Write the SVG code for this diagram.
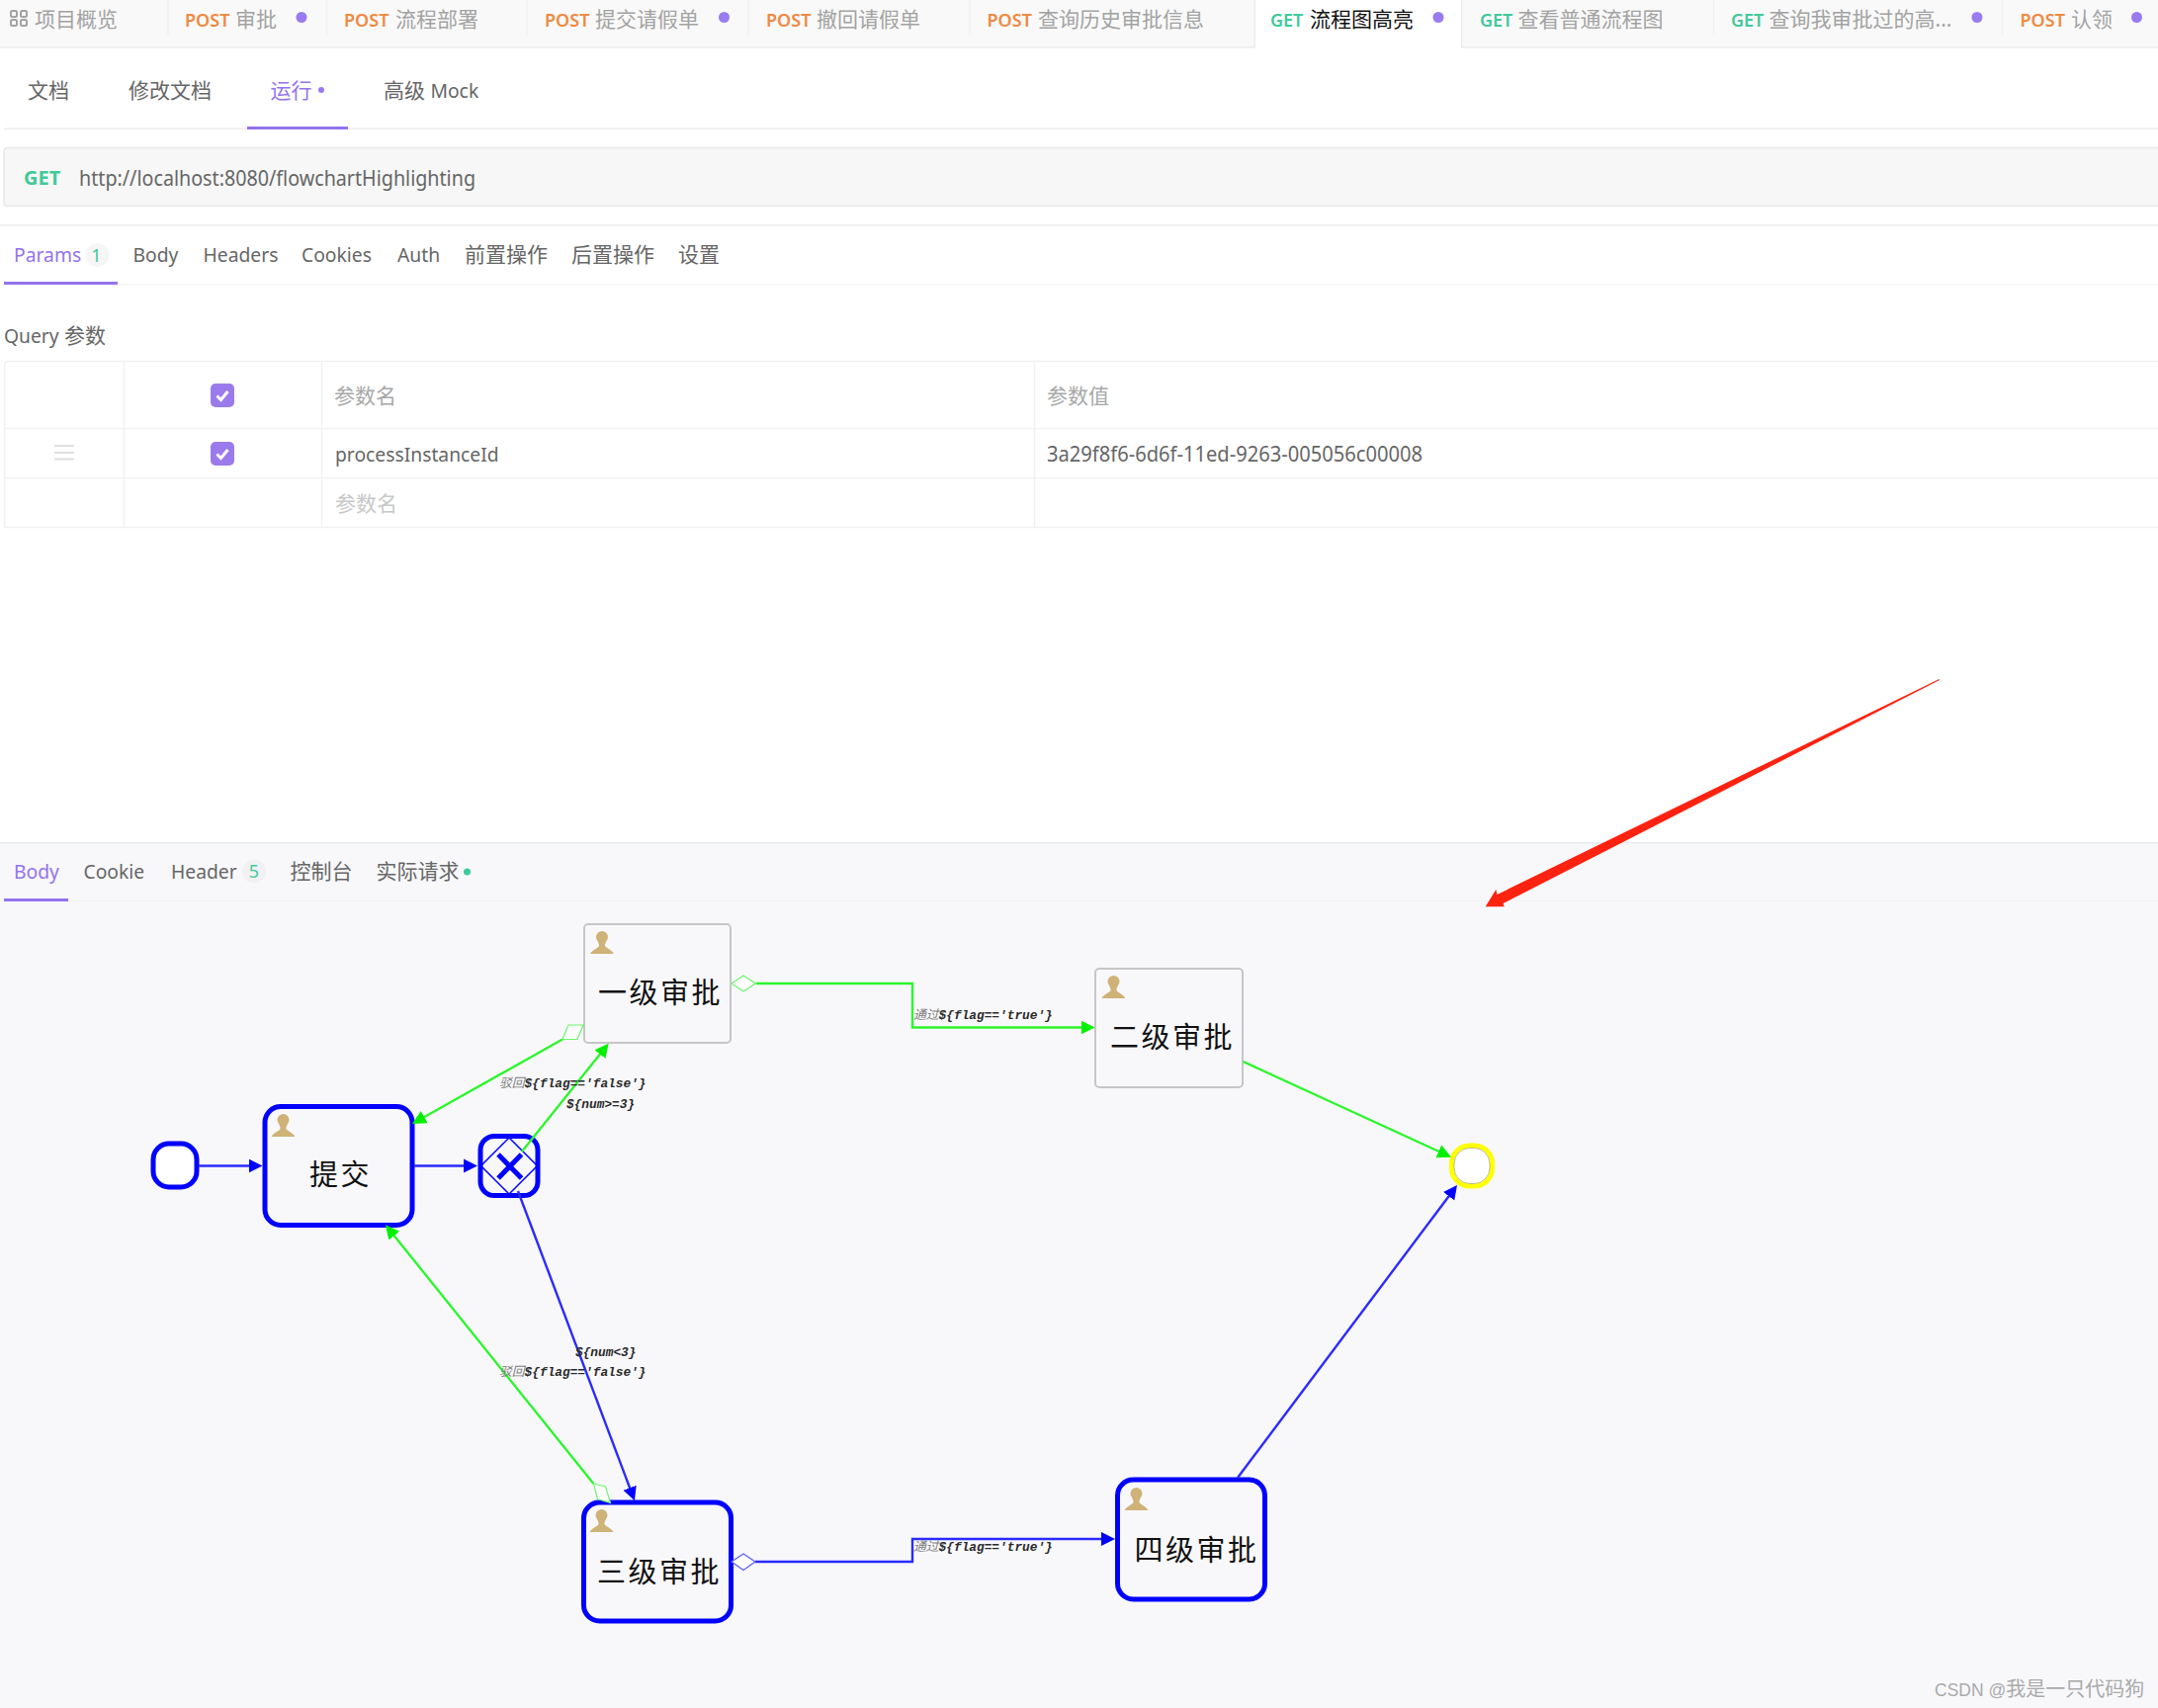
<svg xmlns="http://www.w3.org/2000/svg" xmlns:xlink="http://www.w3.org/1999/xlink" width="2183" height="1728" viewBox="0 0 2183 1728">
<style>
text{font-family:"Noto Sans","Noto Sans CJK SC",sans-serif;font-size:21px;fill:#666}
.l{font-size:19.300px}
.tab{fill:#a3a3a3}
.post{font-size:18px;font-weight:600;fill:#ef8a42}
.get{font-size:18px;font-weight:600;fill:#41c99b}
.p{fill:#9373ee}
.dot{fill:#9a7bef}
.rule{fill:#ececec}
.cell{stroke:#f1f1f1;stroke-width:1.5;fill:none}
.task{fill:#f8f8fb;stroke:#0000ff;stroke-width:5}
.idle{fill:#f8f8fb;stroke:#c6c6c6;stroke-width:2}
.name{font-family:"Liberation Serif","Noto Sans CJK SC",serif;font-size:29px;letter-spacing:2.5px;fill:#111}
.lbl{font-family:"Liberation Mono","Noto Sans CJK SC",monospace;font-size:12.800px;font-style:italic;font-weight:700;fill:#2a2a2a}
.zh{font-weight:400;fill:#808080}
.g{stroke:#2df52d;stroke-width:2.400;fill:none}
.b{stroke:#2a2aff;stroke-width:2.400;fill:none}
.gd{fill:#fff;stroke:#6cf56c;stroke-width:1.2}
.bd{fill:#fff;stroke:#5a5aff;stroke-width:1.2}
.gm{marker-end:url(#ag)}
.bm{marker-end:url(#ab)}
</style>
<defs>
<marker id="ag" markerUnits="userSpaceOnUse" markerWidth="16" markerHeight="16" refX="10" refY="8" orient="auto"><path d="M0 1L14 8L0 15Z" fill="#00f000"/></marker>
<marker id="ab" markerUnits="userSpaceOnUse" markerWidth="16" markerHeight="16" refX="10" refY="8" orient="auto"><path d="M0 1L14 8L0 15Z" fill="#0000ff"/></marker>
<g id="person"><circle cx="12.5" cy="7" r="6" fill="#cfb277"/><path d="M8 8C8 13 10 14 9.500 16C8 18.500 3 19.500 0.500 24L24.500 24C22 19.500 17 18.500 15.500 16C15 14 17 13 17 8Z" fill="#cfb277"/></g>
<g id="check"><rect width="24" height="24" rx="5" fill="#9b7bec"/><path d="M6.500 12.500L10.500 16.500L17.500 8" fill="none" stroke="#fff" stroke-width="3"/></g>
</defs>
<rect width="2183" height="1728" fill="#fff"/>

<g id="tab-bar">
<rect width="2183" height="47" fill="#f9f9f9"/>
<rect y="47" width="2183" height="1.500" fill="#ececec"/>
<path d="M170 0V36M330.500 0V36M533 0V36M757 0V36M981 0V36M1733.500 0V36M2025.500 0V36" stroke="#f1f1f1" stroke-width="1.500"/>
<path d="M1269.500 0V48M1478.500 0V48" stroke="#ececec" stroke-width="1.500"/>
<rect x="1270" y="0" width="208" height="49" fill="#fff"/>
<g fill="none" stroke="#a3a3a3" stroke-width="2"><rect x="11" y="11" width="6" height="6" rx="1.500"/><rect x="21" y="11" width="6" height="6" rx="1.500"/><rect x="11" y="20" width="6" height="6" rx="1.500"/><rect x="21" y="20" width="6" height="6" rx="1.500"/></g>
<text class="tab" x="35" y="27">项目概览</text>
<text class="post" x="187" y="27">POST</text><text class="tab" x="238" y="27">审批</text><circle class="dot" cx="305" cy="17.500" r="5.500"/>
<text class="post" x="348" y="27">POST</text><text class="tab" x="400" y="27">流程部署</text>
<text class="post" x="551" y="27">POST</text><text class="tab" x="602" y="27">提交请假单</text><circle class="dot" cx="732.500" cy="17.500" r="5.500"/>
<text class="post" x="775" y="27">POST</text><text class="tab" x="826" y="27">撤回请假单</text>
<text class="post" x="998.500" y="27">POST</text><text class="tab" x="1050" y="27">查询历史审批信息</text>
<text class="get" x="1285" y="27">GET</text><text x="1325" y="27" style="fill:#111">流程图高亮</text><circle class="dot" cx="1455" cy="17.500" r="5.500"/>
<text class="get" x="1497" y="27">GET</text><text class="tab" x="1535.500" y="27">查看普通流程图</text>
<text class="get" x="1751" y="27">GET</text><text class="tab" x="1789.500" y="27">查询我审批过的高...</text><circle class="dot" cx="2000" cy="17.500" r="5.500"/>
<text class="post" x="2043.500" y="27">POST</text><text class="tab" x="2095" y="27">认领</text><circle class="dot" cx="2161.500" cy="17.500" r="5.500"/>
</g>

<g id="doc-tabs">
<rect x="4" y="129.500" width="2179" height="1.500" class="rule"/>
<text x="28" y="99">文档</text>
<text x="130" y="99">修改文档</text>
<text class="p" x="273.500" y="99">运行</text><circle class="dot" cx="325" cy="91" r="3"/>
<text x="388" y="99">高级 <tspan class="l">Mock</tspan></text>
<rect x="250" y="128" width="102" height="3" fill="#9373ee"/>
</g>

<g id="url-bar">
<path d="M2190 149.500H8Q4 149.500 4 153.500V204.500Q4 208.500 8 208.500H2190Z" fill="#f7f7f7" stroke="#e8e8e8" stroke-width="1.500"/>
<text class="get" x="24" y="187" style="font-size:20px;font-weight:700">GET</text>
<text x="80" y="187.500" textLength="401" lengthAdjust="spacingAndGlyphs">http://localhost:8080/flowchartHighlighting</text>
</g>

<g id="param-tabs">
<rect y="227" width="2183" height="1.500" class="rule"/>
<rect x="4" y="287" width="2179" height="1" fill="#f1f1f1"/>
<text class="p l" x="14" y="264.500">Params</text>
<circle cx="98.500" cy="258" r="12" fill="#f6f6f6"/><text x="97.500" y="264.500" text-anchor="middle" style="font-size:18px;fill:#41c99b">1</text>
<text class="l" x="134.500" y="264.500">Body</text>
<text class="l" x="205.500" y="264.500">Headers</text>
<text class="l" x="305" y="264.500">Cookies</text>
<text class="l" x="402" y="264.500">Auth</text>
<text x="470" y="265">前置操作</text>
<text x="578" y="265">后置操作</text>
<text x="686" y="265">设置</text>
<rect x="4" y="285" width="115" height="3" fill="#9373ee"/>
</g>

<g id="query-params">
<text x="4" y="347"><tspan class="l">Query</tspan> 参数</text>
<path class="cell" d="M2183 365.500H9Q4.500 365.500 4.500 370V533.500H2183M4.500 433.500H2183M4.500 483.500H2183M125.500 365.500V533.500M325.500 365.500V533.500M1046.500 365.500V533.500"/>
<use xlink:href="#check" href="#check" x="213" y="388"/>
<use xlink:href="#check" href="#check" x="213" y="447"/>
<path d="M55 451H75M55 458H75M55 464.500H75" stroke="#dfdfdf" stroke-width="2"/>
<text x="338" y="408" style="fill:#a8a8a8">参数名</text>
<text x="1059" y="408" style="fill:#a8a8a8">参数值</text>
<text class="l" x="339" y="466.500">processInstanceId</text>
<text x="1059" y="466.500" textLength="380" lengthAdjust="spacingAndGlyphs">3a29f8f6-6d6f-11ed-9263-005056c00008</text>
<text x="339" y="517" style="fill:#c8c8c8">参数名</text>
</g>

<g id="response-tabs">
<rect y="852" width="2183" height="876" fill="#f8f8fb"/>
<rect y="852" width="2183" height="1.500" fill="#e6e9ec"/>
<rect x="4" y="911" width="2179" height="1" fill="#f1f1f4"/>
<text class="p l" x="14" y="888.500">Body</text>
<text class="l" x="84.500" y="888.500">Cookie</text>
<text class="l" x="173" y="888.500">Header</text>
<circle cx="257" cy="881.500" r="12" fill="#f1f1f3"/><text x="257" y="888" text-anchor="middle" style="font-size:18px;fill:#41c99b">5</text>
<text x="293.500" y="888.500">控制台</text>
<text x="380.500" y="888.500">实际请求</text>
<circle cx="472.500" cy="882" r="3.500" fill="#41c99b"/>
<rect x="4" y="909" width="65" height="3" fill="#9373ee"/>
</g>

<g id="node-start"><rect x="155" y="1157" width="44" height="44" rx="16" fill="#fff" stroke="#0000ff" stroke-width="5"/></g>
<g id="node-submit"><rect class="task" x="268" y="1119.500" width="149" height="120" rx="16"/><use xlink:href="#person" href="#person" x="274" y="1126"/><text class="name" x="313" y="1199">提交</text></g>
<g id="node-gateway"><rect x="486" y="1149.500" width="58" height="60" rx="14" fill="#f8f8fb" stroke="#0000ff" stroke-width="5"/><path d="M515 1151L543.500 1179.500L515 1208L486.500 1179.500Z" fill="none" stroke="#0000ff" stroke-width="1.500"/><path d="M504 1168L527.500 1192M527.500 1168L504 1192" stroke="#0000ff" stroke-width="5" fill="none"/></g>
<g id="node-level1"><rect class="idle" x="591" y="935" width="148" height="120" rx="4"/><use xlink:href="#person" href="#person" x="596.500" y="941"/><text class="name" x="605" y="1014.500">一级审批</text></g>
<g id="node-level2"><rect class="idle" x="1108" y="980" width="149" height="120" rx="4"/><use xlink:href="#person" href="#person" x="1114" y="986"/><text class="name" x="1123" y="1059.500">二级审批</text></g>
<g id="node-level3"><rect class="task" x="590.500" y="1520" width="149" height="120" rx="16"/><use xlink:href="#person" href="#person" x="596" y="1526"/><text class="name" x="604" y="1600.500">三级审批</text></g>
<g id="node-level4"><rect class="task" x="1130.500" y="1497" width="149" height="121" rx="16"/><use xlink:href="#person" href="#person" x="1137" y="1504"/><text class="name" x="1147.500" y="1578.500">四级审批</text></g>
<g id="node-end"><rect x="1468.500" y="1159" width="41" height="41" rx="18" fill="#fff" stroke="#ffff00" stroke-width="5"/><rect x="1471" y="1161.500" width="36" height="36" rx="16" fill="none" stroke="#777" stroke-width="0.800" opacity="0.6"/></g>

<g id="connectors">
<path class="b bm" d="M201 1179.500H261.500"/>
<path class="b bm" d="M419 1179.500H479"/>
<path class="b bm" d="M524 1205L640.600 1514.600"/>
<path class="g gm" d="M528 1165L613.200 1058.800"/>
<path class="g gm" d="M569 1051.500L420.500 1135"/>
<path class="gd" d="M575 1037L590 1037L584 1051.500L569 1051.500Z"/>
<path class="g gm" d="M765 995H923V1039.500H1103.500"/>
<path class="gd" d="M740 995L752 987L764.500 995L752 1003Z"/>
<path class="g gm" d="M1257.500 1074L1464.400 1169"/>
<path class="g gm" d="M600.400 1501L392.500 1242.400"/>
<path class="gd" d="M600.500 1501L612.500 1504L617.500 1520.500L604.500 1516.500Z"/>
<path class="b bm" d="M764 1580H923V1557H1124"/>
<path class="bd" d="M740 1580L752 1572L764 1580L752 1588.500Z"/>
<path class="b bm" d="M1252 1495L1471.600 1202.200"/>
<text class="lbl" x="505" y="1100"><tspan class="zh">驳回</tspan>${flag=='false'}</text>
<text class="lbl" x="573" y="1121">${num&gt;=3}</text>
<text class="lbl" x="582" y="1372">${num&lt;3}</text>
<text class="lbl" x="505" y="1392"><tspan class="zh">驳回</tspan>${flag=='false'}</text>
<text class="lbl" x="924" y="1031"><tspan class="zh">通过</tspan>${flag=='true'}</text>
<text class="lbl" x="924" y="1569"><tspan class="zh">通过</tspan>${flag=='true'}</text>
</g>

<path id="red-arrow" d="M1961.700 687L1514.500 905L1513.300 900L1502.700 917.300L1521.700 917.300L1520.500 914L1962 688Z" fill="#fe2210"/>
<text id="watermark" x="1957" y="1716" style="font-family:'Liberation Sans','Noto Sans CJK SC',sans-serif;font-size:20px;fill:#aaa"><tspan style="font-size:17.500px">CSDN @</tspan>我是一只代码狗</text>
</svg>
